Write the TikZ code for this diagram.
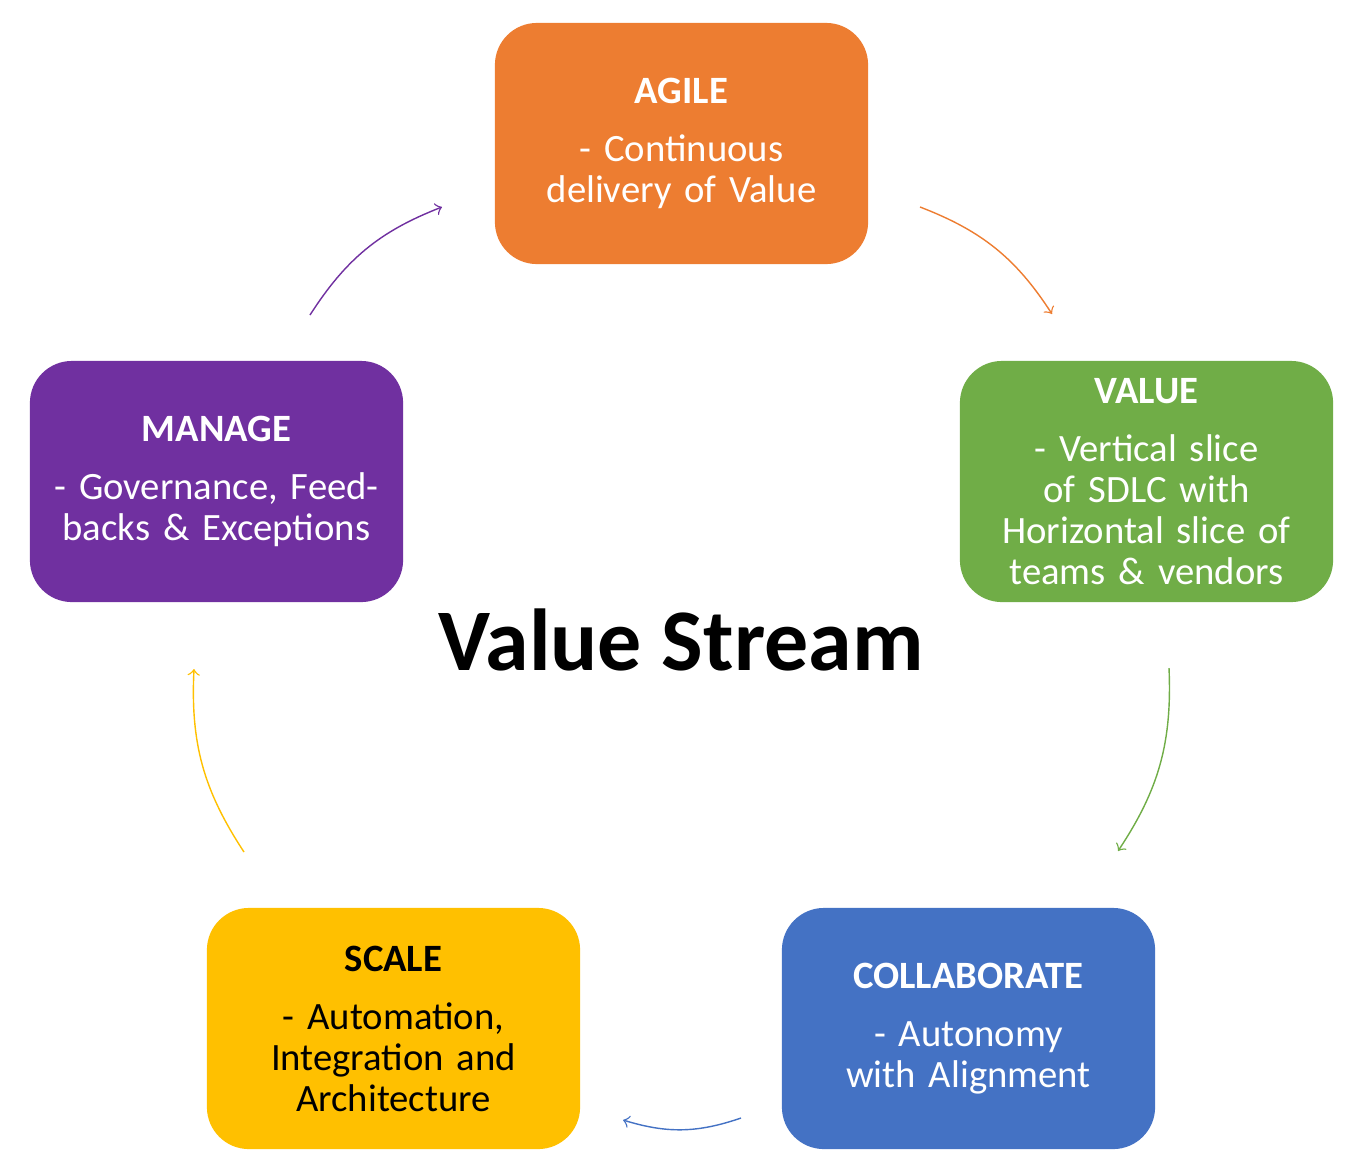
\documentclass[tikz,border=0pt]{standalone}
\usepackage{fontspec}
\setmainfont{Carlito}
\definecolor{orangeb}{HTML}{ED7D31}
\definecolor{greenb}{HTML}{70AD47}
\definecolor{blueb}{HTML}{4472C4}
\definecolor{yellowb}{HTML}{FFC000}
\definecolor{purpleb}{HTML}{7030A0}
\begin{document}
\begin{tikzpicture}[x=0.01cm, y=-0.01cm]
	\tikzset{boite/.style={rectangle, rounded corners=0.42cm, minimum width=3.73cm, minimum height=2.41cm, text width=3.4cm, align=center, text=white, font=\fontsize{11pt}{11.6pt}\selectfont},
		fleche/.style={->, thin, bend left=18}};
	\useasboundingbox (0,0) rectangle (1358,1172);
	\node[boite, fill=orangeb] (agile) at (681.5,143.5) {\textbf{AGILE}\\[5pt]- Continuous delivery of Value};
	\node[boite, fill=greenb] (value) at (1146.5,481.5) {\textbf{VALUE}\\[5pt]- Vertical slice of SDLC with Horizontal slice of teams \& vendors};
	\node[boite, fill=blueb] (collab) at (968.5,1028.5) {\textbf{COLLABORATE}\\[5pt]- Autonomy with Alignment};
	\node[boite, fill=yellowb, text=black] (scale) at (393.5,1028.5) {\textbf{SCALE}\\[5pt]- Automation, Integration and Architecture};
	\node[boite, fill=purpleb] (manage) at (216.5,481.5) {\textbf{MANAGE}\\[5pt]- Governance, Feedbacks \& Exceptions};
	\node[font=\bfseries\fontsize{25pt}{30pt}\selectfont] (titre) at (681,640) {Value Stream};

	% extremites des fleches
	\coordinate (a1) at (920,207); \coordinate (a2) at (1052,314);
	\coordinate (v1) at (1169,668); \coordinate (v2) at (1118,851);
	\coordinate (c1) at (741,1118); \coordinate (c2) at (623,1120);
	\coordinate (s1) at (244,852); \coordinate (s2) at (194,669);
	\coordinate (m1) at (310,315); \coordinate (m2) at (442,207);

	\draw[fleche, orangeb] (a1) to (a2);
	\draw[fleche, greenb] (v1) to (v2);
	\draw[fleche, blueb] (c1) to (c2);
	\draw[fleche, yellowb] (s1) to (s2);
	\draw[fleche, purpleb] (m1) to (m2);
\end{tikzpicture}
\end{document}
